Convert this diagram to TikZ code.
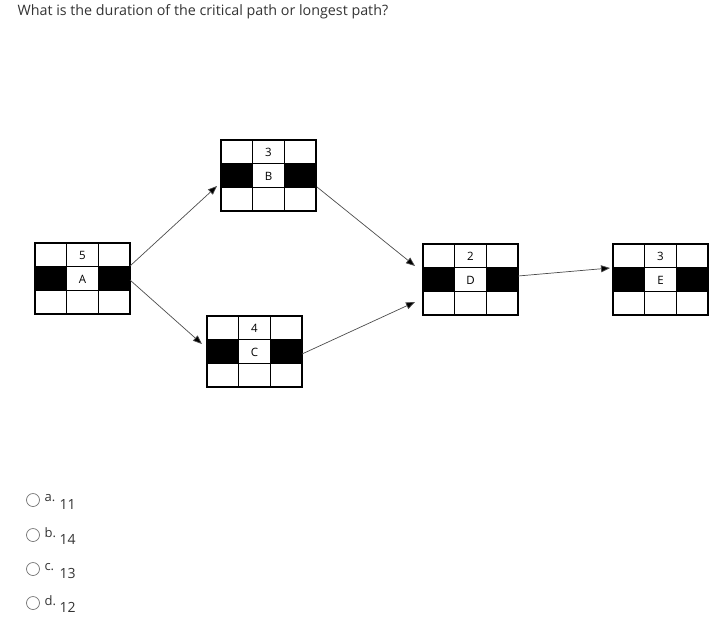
\documentclass[tikz,border=0pt]{standalone}
\usepackage{fontspec}
\setmainfont{Open Sans}
\usetikzlibrary{arrows.meta}
\definecolor{txt}{HTML}{333333}
\begin{document}
\begin{tikzpicture}[x=1pt,y=-1pt,
  cellline/.style={draw=black,line width=1.1pt},
  conn/.style={draw=black!70,line width=0.7pt,-{Triangle[length=9pt,width=7pt,fill=black]}},
  lbl/.style={font=\fontsize{11.5}{12}\selectfont,text=black},
  opt/.style={font=\fontsize{13}{14}\selectfont,text=txt,anchor=west},
  radio/.style={draw=black!55,line width=0.7pt,circle,minimum size=13pt,inner sep=0pt}]
\useasboundingbox (0,0) rectangle (722,630);
\node[anchor=west,text=txt,font=\fontsize{14.3}{16}\selectfont] (title) at (14,12) {What is the duration of the critical path or longest path?};
\newcommand{\actbox}[4]{%
  \fill (#2,#3+23.7) rectangle ++(31.7,23.7);
  \fill (#2+63.3,#3+23.7) rectangle ++(31.7,23.7);
  \draw[cellline] (#2,#3) rectangle ++(95,71);
  \draw[cellline] (#2+31.7,#3) -- ++(0,71) (#2+63.3,#3) -- ++(0,71)
     (#2,#3+23.7) -- ++(95,0) (#2,#3+47.3) -- ++(95,0);
  \coordinate (#1) at (#2,#3);
  #4}
\actbox{A}{35}{243}{\node[lbl] (Ad) at (82.5,255) {5}; \node[lbl] (Al) at (82.5,279) {A};}
\actbox{B}{221}{140}{\node[lbl] (Bd) at (268.5,152) {3}; \node[lbl] (Bl) at (268.5,176) {B};}
\actbox{C}{207}{316}{\node[lbl] (Cd) at (254.5,328) {4}; \node[lbl] (Cl) at (254.5,352) {C};}
\actbox{D}{423}{244}{\node[lbl] (Dd) at (470.5,256) {2}; \node[lbl] (Dl) at (470.5,280) {D};}
\actbox{E}{613}{244}{\node[lbl] (Ed) at (660.5,256) {3}; \node[lbl] (El) at (660.5,280) {E};}
\coordinate (a1) at (130,266); \coordinate (b1) at (217,186);
\coordinate (a2) at (130,280); \coordinate (c1) at (202,344);
\coordinate (b2) at (317,187); \coordinate (d1) at (415,266);
\coordinate (c2) at (302,354); \coordinate (d2) at (415,302);
\coordinate (d3) at (518,276); \coordinate (e1) at (610,268);
\draw[conn] (a1) -- (b1);
\draw[conn] (a2) -- (c1);
\draw[conn] (b2) -- (d1);
\draw[conn] (c2) -- (d2);
\draw[conn] (d3) -- (e1);
\foreach \y/\l/\n [count=\i] in {500/a./11,535/b./14,569/c./13,603/d./12}{
  \node[radio] (r\i) at (33,\y) {};
  \node[opt] (o\i) at (41,\y-2) {\l};
  \node[opt,font=\fontsize{14}{15}\selectfont] (n\i) at (56,\y+4) {\n};
}
\end{tikzpicture}
\end{document}
